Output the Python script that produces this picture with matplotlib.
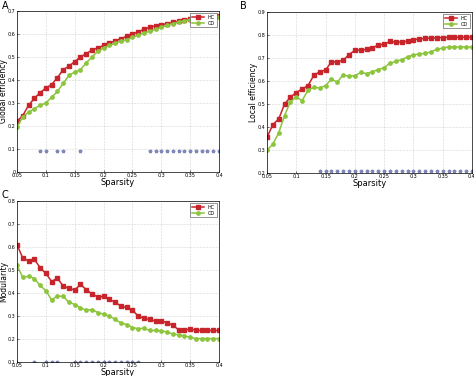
import numpy as np
import matplotlib
matplotlib.use("Agg")
import matplotlib.pyplot as plt

# sparsity thresholds 0.05..0.40
sparsity = [round(0.05 + 0.01 * i, 2) for i in range(36)]

# A: global efficiency
ge_hc = [0.22, 0.245, 0.29, 0.32, 0.345, 0.365, 0.38, 0.41, 0.445, 0.46, 0.48, 0.50,
         0.515, 0.53, 0.54, 0.55, 0.56, 0.57, 0.58, 0.59, 0.60, 0.61, 0.62, 0.63,
         0.635, 0.64, 0.645, 0.65, 0.655, 0.66, 0.665, 0.67, 0.672, 0.674, 0.676, 0.678]
ge_cd = [0.195, 0.24, 0.26, 0.275, 0.29, 0.30, 0.325, 0.35, 0.385, 0.42, 0.435, 0.445,
         0.475, 0.50, 0.525, 0.54, 0.55, 0.56, 0.57, 0.575, 0.585, 0.595, 0.605, 0.612,
         0.62, 0.63, 0.638, 0.645, 0.652, 0.658, 0.663, 0.666, 0.668, 0.67, 0.672, 0.674]
ge_sig = [0.09, 0.10, 0.12, 0.13, 0.16, 0.28, 0.29, 0.30, 0.31, 0.32, 0.33, 0.34,
          0.35, 0.36, 0.37, 0.38, 0.39, 0.40]

# B: local efficiency
le_hc = [0.355, 0.41, 0.435, 0.50, 0.53, 0.55, 0.565, 0.58, 0.625, 0.64, 0.648, 0.683,
         0.683, 0.69, 0.715, 0.733, 0.735, 0.737, 0.743, 0.757, 0.76, 0.772, 0.768, 0.77,
         0.773, 0.78, 0.783, 0.785, 0.787, 0.788, 0.789, 0.79, 0.79, 0.79, 0.79, 0.79]
le_cd = [0.30, 0.325, 0.375, 0.45, 0.51, 0.53, 0.515, 0.56, 0.572, 0.57, 0.58, 0.608,
         0.595, 0.627, 0.62, 0.623, 0.637, 0.632, 0.64, 0.65, 0.658, 0.678, 0.685, 0.693,
         0.705, 0.713, 0.718, 0.72, 0.727, 0.738, 0.743, 0.748, 0.748, 0.748, 0.748, 0.748]
le_sig = [round(0.14 + 0.01 * i, 2) for i in range(27)]

# C: modularity
mod_hc = [0.61, 0.552, 0.54, 0.547, 0.51, 0.485, 0.45, 0.465, 0.43, 0.42, 0.413, 0.437,
          0.415, 0.395, 0.383, 0.385, 0.372, 0.36, 0.343, 0.337, 0.325, 0.30, 0.29, 0.285,
          0.278, 0.28, 0.27, 0.26, 0.24, 0.238, 0.245, 0.237, 0.237, 0.237, 0.237, 0.237]
mod_cd = [0.52, 0.468, 0.473, 0.463, 0.433, 0.41, 0.37, 0.387, 0.385, 0.36, 0.35, 0.335,
          0.325, 0.328, 0.315, 0.308, 0.30, 0.285, 0.27, 0.263, 0.25, 0.245, 0.247, 0.237,
          0.237, 0.236, 0.23, 0.222, 0.218, 0.214, 0.207, 0.202, 0.202, 0.202, 0.202, 0.202]
mod_sig = [0.08, 0.10, 0.11, 0.12, 0.15, 0.16, 0.17, 0.18, 0.19, 0.20, 0.21, 0.22,
           0.23, 0.24, 0.25, 0.26]

red = "#c8242b"
green = "#8cc43c"
star = "#7f86b8"

fig = plt.figure(figsize=(4.74, 3.76), dpi=100)

def panel(rect, hc, cd, sig, sig_y, ylim, ylabel, letter, lx, ly):
    ax = fig.add_axes(rect)
    ax.plot(sparsity, hc, color=red, marker="s", markersize=2.4, linewidth=1.1, label="HC")
    ax.plot(sparsity, cd, color=green, marker="o", markersize=2.4, linewidth=1.1, label="CD")
    ax.plot(sig, [sig_y] * len(sig), linestyle="none", marker="*", markersize=2.5,
            color=star)
    ax.set_xlim(0.05, 0.4)
    ax.set_ylim(*ylim)
    ax.set_xticks([0.05, 0.1, 0.15, 0.2, 0.25, 0.3, 0.35, 0.4])
    ax.set_xticklabels(["0.05", "0.1", "0.15", "0.2", "0.25", "0.3", "0.35", "0.4"])
    yt = np.arange(ylim[0], ylim[1] + 0.001, 0.1)
    ax.set_yticks(yt)
    ax.set_yticklabels(["%g" % round(v, 1) for v in yt])
    ax.tick_params(labelsize=3.5, length=1.5, width=0.4, pad=1, direction="in")
    ax.grid(True, linestyle=":", linewidth=0.4, color="#b0b0b0")
    for s in ax.spines.values():
        s.set_linewidth(0.5)
    ax.set_xlabel("Sparsity", fontsize=6, labelpad=0)
    ax.set_ylabel(ylabel, fontsize=5.5, labelpad=0)
    leg = ax.legend(loc="upper right", fontsize=3.5, handlelength=2.5, borderpad=0.3,
                    labelspacing=0.2, fancybox=False, edgecolor="#404040", framealpha=1)
    leg.get_frame().set_linewidth(0.4)
    fig.text(lx, ly, letter, fontsize=7)
    return ax

W, H = 474.0, 376.0
panel([17 / W, 1 - 172 / H, 202 / W, 161 / H], ge_hc, ge_cd, ge_sig, 0.09, (0, 0.7),
      "Global efficiency", "A", 2 / W, 1 - 9 / H)
panel([267 / W, 1 - 173 / H, 205 / W, 161 / H], le_hc, le_cd, le_sig, 0.21, (0.2, 0.9),
      "Local efficiency", "B", 240 / W, 1 - 9 / H)
panel([17 / W, 1 - 362 / H, 202 / W, 161 / H], mod_hc, mod_cd, mod_sig, 0.1, (0.1, 0.8),
      "Modularity", "C", 2 / W, 1 - 198 / H)

fig.savefig("out.png", dpi=100)
